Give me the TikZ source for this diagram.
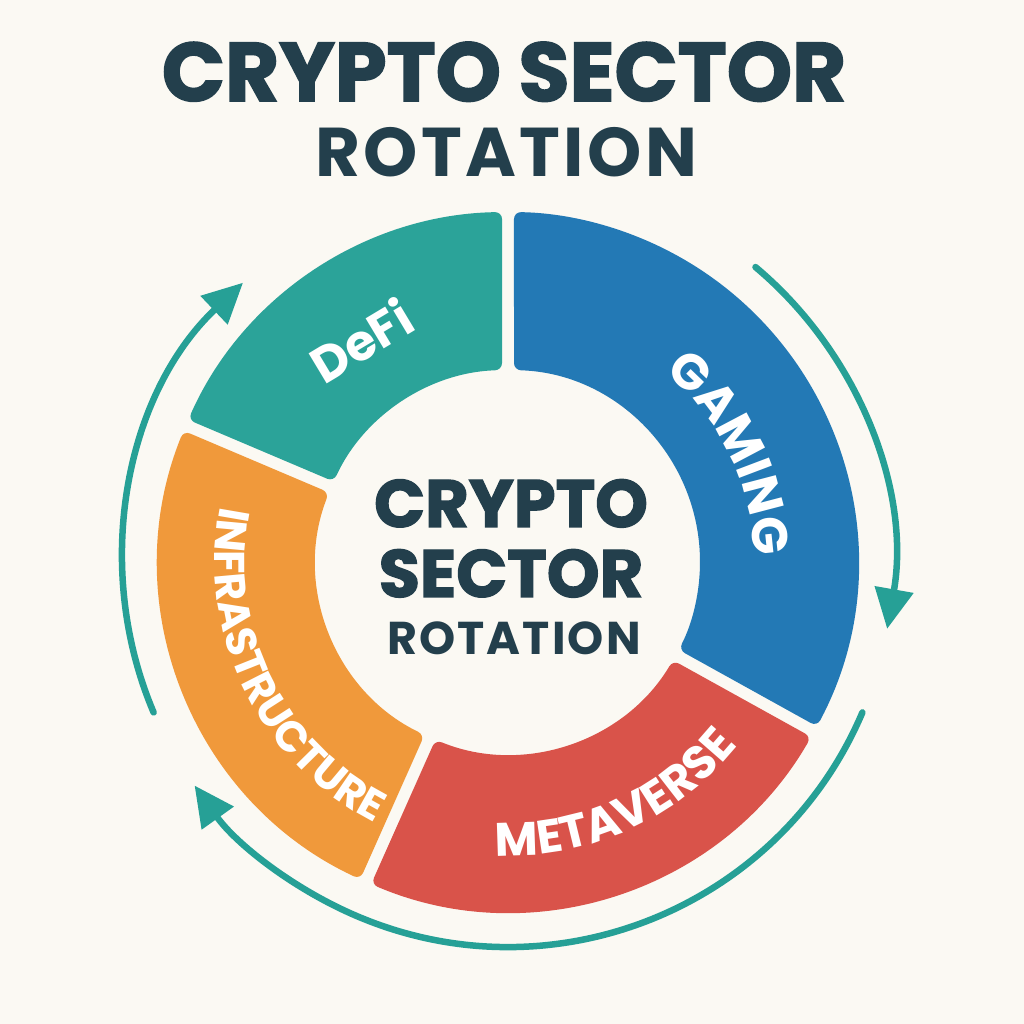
\documentclass[tikz,border=0pt]{standalone}
\usepackage{fontspec}
\newfontfamily\pop{Poppins}
\newfontfamily\popheavy{Poppins}[BoldFeatures={FakeBold=2}]
\usetikzlibrary{arrows.meta,decorations.text}
\definecolor{bg}{HTML}{FBF9F3}
\definecolor{tealseg}{HTML}{2BA399}
\definecolor{blueseg}{HTML}{2379B5}
\definecolor{redseg}{HTML}{D9534A}
\definecolor{orangeseg}{HTML}{F0993B}
\definecolor{ink}{HTML}{233F4C}
\definecolor{arrowc}{HTML}{26A096}
\newcommand\ringseg[3]{%
  \fill[#3, rounded corners=7pt] ({#1+0.98}:350) arc[start angle={#1+0.98}, end angle={#2-0.98}, radius=350]
    -- ({#2-1.79}:192) arc[start angle={#2-1.79}, end angle={#1+1.79}, radius=192] -- cycle;}
\newcommand\labfont[1]{\pop\bfseries\fontsize{#1}{#1}\selectfont\color{white}}
\tikzset{
  arrowline/.style={draw=arrowc, line width=6.5pt, line cap=round, -{Triangle[length=40pt,width=38pt]}},
  titletext/.style={anchor=base, inner sep=0pt, text=ink},
}
\begin{document}
\begin{tikzpicture}[x=1pt,y=1pt]
\fill[bg] (0,0) rectangle (1024,1024);
\useasboundingbox (0,0) rectangle (1024,1024);
% title
\node[titletext, font=\popheavy\bfseries\fontsize{83}{83}\selectfont] (title) at (504,923) {CRYPTO SECTOR};
\node[titletext, font=\pop\bfseries\fontsize{69}{69}\selectfont] (subtitle) at (506,847)
  {R\kern3.4pt O\kern3.4pt T\kern3.4pt A\kern3.4pt T\kern3.4pt I\kern3.4pt O\kern3.4pt N};
\begin{scope}[shift={(508,462)}]
  \ringseg{90}{157}{tealseg}
  \ringseg{157}{246}{orangeseg}
  \ringseg{246}{331}{redseg}
  \ringseg{331}{450}{blueseg}
  % labels
  \node[inner sep=0pt, rotate=31, font=\labfont{50}] (defi) at (-147,222) {DeFi};
  \path[decorate, decoration={text along path, text align=center, text={|\labfont{50}|GAMING}}]
    (76:246) arc[start angle=76, end angle=-24, radius=246];
  \path[decorate, decoration={text along path, text align=center, text={|\labfont{43}|INFRASTRUCTURE}}]
    (156:293) arc[start angle=156, end angle=256, radius=293];
  \path[decorate, decoration={text along path, text align=center, text={|\labfont{47}|METAVERSE}}]
    (-115.5:294) arc[start angle=-115.5, end angle=-15.5, radius=294];
  % arrows
  \draw[arrowline] (203:385) arc[start angle=203, end angle=133.5, radius=385];
  \draw[arrowline] (50:385) arc[start angle=50, end angle=-10, radius=385];
  \draw[arrowline] (-23:385) arc[start angle=-23, end angle=-144.5, radius=385];
\end{scope}
% centre text
\node[titletext, font=\popheavy\bfseries\fontsize{67}{67}\selectfont] (c1) at (511,497) {CRYPTO};
\node[titletext, font=\popheavy\bfseries\fontsize{67}{67}\selectfont] (c2) at (511,427) {SECTOR};
\node[titletext, font=\pop\bfseries\fontsize{46}{46}\selectfont] (c3) at (514,369)
  {R\kern2.1pt O\kern2.1pt T\kern2.1pt A\kern2.1pt T\kern2.1pt I\kern2.1pt O\kern2.1pt N};
\end{tikzpicture}
\end{document}
